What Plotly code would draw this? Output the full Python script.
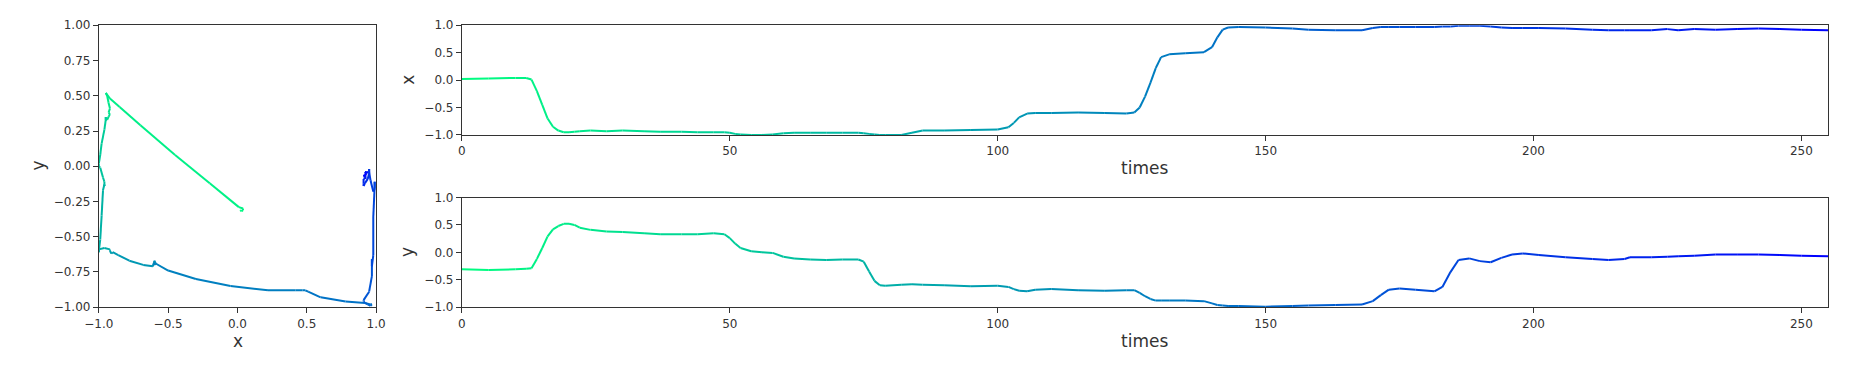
import plotly.graph_objects as go

# ---- data (time step, x position, y position) ----
times = [0, 5, 10, 12, 13, 14, 15, 16, 17, 18, 19, 20, 21, 22, 24, 27, 30, 34, 37, 41, 44, 47, 49,
         50, 51, 52, 54, 56, 58, 60, 62, 65, 68, 71, 74, 75, 76, 77, 78, 79, 82, 84, 86, 90, 95,
         100, 102, 103, 104, 105.5, 107, 110, 115, 120, 124, 125.5, 126.5, 127.5, 128.5, 129.5,
         130.5, 132, 135, 138.5, 140, 141, 142, 143, 145, 150, 155, 158, 163, 168, 170, 171.5,
         173, 175, 178, 181.5, 183, 184.5, 186, 188, 190, 192, 194, 196, 198, 201, 206, 211,
         214, 217, 218, 222, 225, 227, 230, 234, 238, 242, 246, 250, 255]
x_vals = [0.02, 0.03, 0.04, 0.04, 0.01, -0.2, -0.45, -0.70, -0.85, -0.92, -0.95, -0.95, -0.94,
          -0.93, -0.92, -0.93, -0.92, -0.93, -0.94, -0.94, -0.95, -0.95, -0.95,
          -0.96, -0.98, -0.99, -1.0, -1.0, -0.99, -0.97, -0.96, -0.96, -0.96, -0.96, -0.96,
          -0.97, -0.98, -0.99, -1.0, -1.0, -1.0, -0.96, -0.92, -0.92, -0.91,
          -0.90, -0.86, -0.78, -0.68, -0.61, -0.60, -0.60, -0.59, -0.60, -0.61, -0.59, -0.50,
          -0.30, -0.05, 0.22, 0.42, 0.47, 0.49, 0.51, 0.60, 0.78, 0.92, 0.96, 0.97, 0.96, 0.94,
          0.92, 0.91, 0.91, 0.95, 0.97, 0.97, 0.97, 0.97, 0.97, 0.98, 0.98, 0.99, 0.99, 0.99,
          0.98, 0.96, 0.95, 0.95, 0.95, 0.94, 0.92, 0.91, 0.91, 0.91, 0.91, 0.93, 0.91, 0.93,
          0.92, 0.93, 0.94, 0.93, 0.92, 0.91]
y_vals = [-0.31, -0.32, -0.31, -0.30, -0.29, -0.12, 0.08, 0.29, 0.42, 0.48, 0.52, 0.52, 0.50,
          0.45, 0.41, 0.38, 0.37, 0.35, 0.33, 0.33, 0.33, 0.35, 0.33,
          0.26, 0.16, 0.08, 0.02, 0.0, -0.01, -0.08, -0.11, -0.13, -0.14, -0.13, -0.13,
          -0.17, -0.35, -0.52, -0.60, -0.61, -0.59, -0.58, -0.59, -0.60, -0.62,
          -0.61, -0.63, -0.67, -0.70, -0.71, -0.68, -0.67, -0.69, -0.70, -0.69, -0.69, -0.74,
          -0.80, -0.85, -0.88, -0.88, -0.88, -0.88, -0.89, -0.93, -0.96, -0.97, -0.98, -0.98,
          -0.99, -0.98, -0.97, -0.96, -0.95, -0.89, -0.78, -0.68, -0.66, -0.68, -0.71, -0.63,
          -0.36, -0.14, -0.11, -0.16, -0.18, -0.10, -0.04, -0.02, -0.05, -0.09, -0.12, -0.14,
          -0.12, -0.09, -0.09, -0.08, -0.07, -0.06, -0.04, -0.04, -0.04, -0.05, -0.06, -0.07]

x_ticks = [0, 50, 100, 150, 200, 250]
t_max = 255

W, H = 1852, 370
FONT = "DejaVu Sans"
TXT = "#333333"


def color_at(t):
    s = t / t_max
    g = int(round(255 * (1 - s)))
    b = int(round(255 * (0.5 + 0.5 * s)))
    return f"rgb(0,{g},{b})"


fig = go.Figure()

panels = [("x", "y", x_vals, y_vals),          # left: y vs x
          ("x2", "y2", times, x_vals),        # top right: x vs time
          ("x3", "y3", times, y_vals)]        # bottom right: y vs time

for xa, ya, xs, ys in panels:
    for i in range(len(times) - 1):
        fig.add_trace(go.Scatter(
            x=[xs[i], xs[i + 1]], y=[ys[i], ys[i + 1]],
            mode="lines", xaxis=xa, yaxis=ya,
            line=dict(color=color_at((times[i] + times[i + 1]) / 2), width=2, shape="spline",
                      smoothing=0.5),
            hoverinfo="skip", showlegend=False))


def px_x(p):
    return p / W


def px_y(p):
    return 1 - p / H


axis_common = dict(showline=True, mirror=True, linecolor="#333333", linewidth=1,
                   ticks="outside", ticklen=5, tickcolor="#333333", tickwidth=1,
                   showgrid=False, zeroline=False,
                   tickfont=dict(family=FONT, size=12, color=TXT))

fig.update_layout(
    width=W, height=H,
    margin=dict(l=0, r=0, t=0, b=0),
    paper_bgcolor="white", plot_bgcolor="white",
    showlegend=False,
    xaxis=dict(domain=[px_x(85), px_x(366)], range=[-1, 1], tickvals=[-1, -0.5, 0, 0.5, 1],
               tickformat=".1f", anchor="y", **axis_common),
    yaxis=dict(domain=[px_y(312), px_y(19)], range=[-1, 1],
               tickvals=[-1, -0.75, -0.5, -0.25, 0, 0.25, 0.5, 0.75, 1],
               tickformat=".2f", anchor="x", **axis_common),
    xaxis2=dict(domain=[px_x(453), px_x(1838)], range=[0, t_max], tickvals=x_ticks,
                anchor="y2", **axis_common),
    yaxis2=dict(domain=[px_y(133), px_y(19)], range=[-1, 1],
                tickvals=[-1, -0.5, 0, 0.5, 1], tickformat=".1f", anchor="x2", **axis_common),
    xaxis3=dict(domain=[px_x(453), px_x(1838)], range=[0, t_max], tickvals=x_ticks,
                anchor="y3", **axis_common),
    yaxis3=dict(domain=[px_y(312), px_y(198)], range=[-1, 1],
                tickvals=[-1, -0.5, 0, 0.5, 1], tickformat=".1f", anchor="x3", **axis_common),
)

title_font = dict(family=FONT, size=17, color=TXT)
labels = [
    ("x", 226, 347, 0),
    ("y", 23, 165, -90),
    ("x", 398, 76, -90),
    ("times", 1145, 167, 0),
    ("y", 398, 255, -90),
    ("times", 1145, 347, 0),
]
for text, cx, cy, ang in labels:
    fig.add_annotation(text=text, x=px_x(cx), y=px_y(cy), xref="paper", yref="paper",
                       showarrow=False, textangle=ang, font=title_font,
                       xanchor="center", yanchor="middle")

fig.write_html("out.html")
